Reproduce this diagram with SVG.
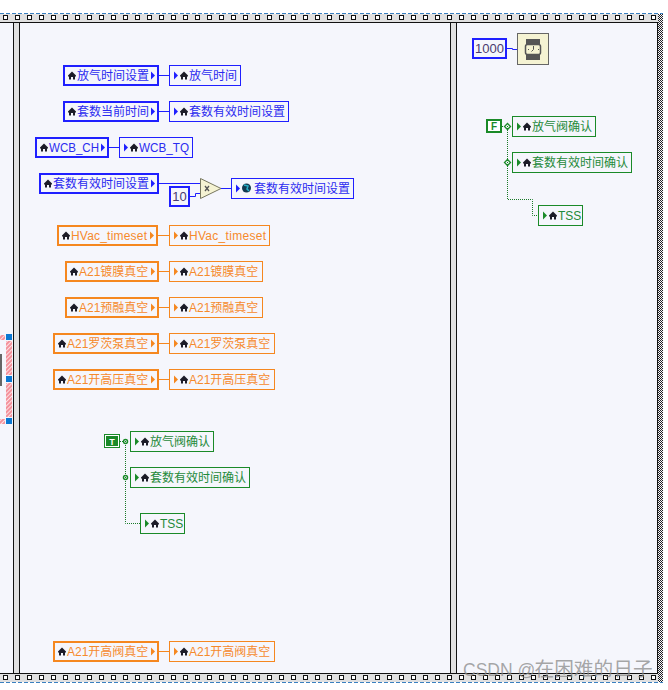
<svg xmlns="http://www.w3.org/2000/svg" width="668" height="690" viewBox="0 0 668 690">
<style>
text{font-family:"Liberation Sans","Noto Sans CJK SC",sans-serif;font-size:12px}
.bl{fill:#2b2bf0}.or{fill:#f58a2c}.gr{fill:#1f8a3a}
.box{fill:#f5f6fc}
.blS{stroke:#1f1fff}.orS{stroke:#f5871f}.grS{stroke:#1a8a28}
.src{stroke-width:2;fill:#f5f6fc}.dst{stroke-width:1;fill:#f5f6fc}
.w{fill:none;stroke-width:1}
.dot{fill:none;stroke:#1a7a28;stroke-width:1;stroke-dasharray:1 1}
.tb{fill:#1f1fff}.to{fill:#f5871f}.tg{fill:#1a8a28}
</style>
<defs>
<symbol id="home" width="9" height="9" viewBox="0 0 9 9" overflow="visible"><path d="M4 0.5L8 4.5V5.5H7V8.5H5V6H3V8.5H1V5.5H0V4.5Z" fill="#1c1c28"/></symbol>
<pattern id="film" x="0" y="14" width="12" height="8" patternUnits="userSpaceOnUse"><rect width="12" height="8" fill="#e0e0e0"/><rect x="3.5" y="1.5" width="4" height="4" fill="#fff" stroke="#111"/></pattern>
<pattern id="filmB" x="0" y="674" width="12" height="8" patternUnits="userSpaceOnUse"><rect width="12" height="8" fill="#e0e0e0"/><rect x="3.5" y="1.5" width="4" height="4" fill="#fff" stroke="#111"/></pattern>
<pattern id="hatch" width="3" height="3" patternUnits="userSpaceOnUse" patternTransform="rotate(45)"><rect width="3" height="3" fill="#f4919b"/><rect width="1" height="3" fill="#fbe0e3"/></pattern>
<pattern id="check" width="2" height="2" patternUnits="userSpaceOnUse"><rect width="2" height="2" fill="#f5f6fc"/><rect width="1" height="1" fill="#222"/><rect x="1" y="1" width="1" height="1" fill="#222"/></pattern>
</defs>
<rect width="668" height="690" fill="#fff"/>
<rect x="0" y="22" width="658" height="652" fill="#e0e0e0"/>
<rect x="0" y="22" width="14" height="652" class="box"/>
<rect x="19.500" y="22.500" width="431" height="651" class="box" stroke="#111"/>
<rect x="456.500" y="22.500" width="201" height="651" class="box" stroke="#111"/>
<line x1="13.500" y1="22" x2="13.500" y2="674" stroke="#111"/>
<rect x="658" y="14" width="5" height="668" fill="url(#check)"/>
<rect x="0" y="14" width="658" height="8" fill="url(#film)"/>
<line x1="0" y1="22.500" x2="658" y2="22.500" stroke="#111"/>
<rect x="0" y="674" width="658" height="8" fill="url(#filmB)"/>
<line x1="0" y1="673.500" x2="658" y2="673.500" stroke="#111"/>
<line x1="0" y1="13.500" x2="663" y2="13.500" stroke="#3a80c0" stroke-dasharray="4 2"/>
<line x1="0" y1="682.500" x2="663" y2="682.500" stroke="#3a80c0" stroke-dasharray="4 2"/>
<g id="left-frame">
<rect x="6" y="341" width="6" height="34" fill="url(#hatch)"/>
<rect x="6" y="383" width="6" height="34" fill="url(#hatch)"/>
<rect x="0" y="335" width="5" height="5" fill="url(#hatch)"/>
<rect x="0" y="419" width="5" height="5" fill="url(#hatch)"/>
<rect x="0" y="354" width="2" height="32" fill="#666"/>
<rect x="6" y="334" width="6" height="6" fill="#0a78d2"/>
<rect x="6" y="376" width="6" height="6" fill="#0a78d2"/>
<rect x="6" y="418" width="6" height="6" fill="#0a78d2"/>
</g>
<g id="connectors">
<path class="w blS" d="M159 75.500H169M159 111.500H169M109 147.500H119M159 183.500H200M190 196.500H195.500V193.500H200M221 188.500H231M507 48.500H512.500V49.500H517"/>
<path class="w orS" d="M158 235.500H169M159 271.500H169M159 307.500H169M159 343.500H169M159 379.500H169M159 651.500H169"/>
<path class="dot" d="M125.500 441V523.500H140M120 441.500H123"/>
<path class="dot" d="M507.500 126V199.500H532.500V215.500H538M502 126.500H505"/>
</g>
<g id="n1"><rect class="src blS" x="64" y="66" width="94" height="19"/><use href="#home" x="68" y="71"/><text class="bl" x="77" y="80">放气时间设置</text><path d="M151 71.500L155 75.500L151 79.500Z" class="tb"/></g>
<g id="n2"><rect class="dst blS" x="169.500" y="65.500" width="71" height="20"/><path d="M174 71.500L178 75.500L174 79.500Z" class="tb"/><use href="#home" x="180" y="71"/><text class="bl" x="189" y="80">放气时间</text></g>
<g id="n3"><rect class="src blS" x="64" y="102" width="94" height="19"/><use href="#home" x="68" y="107"/><text class="bl" x="77" y="116">套数当前时间</text><path d="M151 107.500L155 111.500L151 115.500Z" class="tb"/></g>
<g id="n4"><rect class="dst blS" x="169.500" y="101.500" width="119" height="20"/><path d="M174 107.500L178 111.500L174 115.500Z" class="tb"/><use href="#home" x="180" y="107"/><text class="bl" x="189" y="116">套数有效时间设置</text></g>
<g id="n5"><rect class="src blS" x="36" y="138" width="72" height="19"/><use href="#home" x="40" y="143"/><text class="bl" x="49" y="152" textLength="50" lengthAdjust="spacingAndGlyphs">WCB_CH</text><path d="M101 143.500L105 147.500L101 151.500Z" class="tb"/></g>
<g id="n6"><rect class="dst blS" x="119.500" y="137.500" width="73" height="20"/><path d="M124 143.500L128 147.500L124 151.500Z" class="tb"/><use href="#home" x="130" y="143"/><text class="bl" x="139" y="152" textLength="50" lengthAdjust="spacingAndGlyphs">WCB_TQ</text></g>
<g id="n7"><rect class="src blS" x="40" y="174" width="118" height="19"/><use href="#home" x="44" y="179"/><text class="bl" x="53" y="188">套数有效时间设置</text><path d="M151 179.500L155 183.500L151 187.500Z" class="tb"/></g>
<g id="n8"><rect class="src blS" x="170" y="187" width="19" height="19"/><text x="179.500" y="201" text-anchor="middle" fill="#4a3a70" style="font-size:13px">10</text></g>
<g id="n9"><path d="M200.500 178.500L221 188.500L200.500 198.500Z" fill="#f5f3d3" stroke="#77775f"/><path d="M205 186L209 191M209 186L205 191" stroke="#555" fill="none" stroke-width="1.300"/></g>
<g id="n10"><rect class="dst blS" x="231.500" y="178.500" width="122" height="20"/><path d="M236 184.500L240 188.500L236 192.500Z" class="tb"/><circle cx="246.500" cy="188" r="4.500" fill="#123a50"/><path d="M244 185L248 186L247 189L249 191" fill="none" stroke="#29b0c8" stroke-width="1.500"/><text class="bl" x="254" y="193">套数有效时间设置</text></g>
<g id="n11"><rect class="src orS" x="58" y="226" width="99" height="19"/><use href="#home" x="62" y="231"/><text class="or" x="71" y="240" textLength="76" lengthAdjust="spacing">HVac_timeset</text><path d="M150 231.500L154 235.500L150 239.500Z" class="to"/></g>
<g id="n12"><rect class="dst orS" x="169.500" y="225.500" width="100" height="20"/><path d="M174 231.500L178 235.500L174 239.500Z" class="to"/><use href="#home" x="180" y="231"/><text class="or" x="189" y="240" textLength="77" lengthAdjust="spacing">HVac_timeset</text></g>
<g id="n13"><rect class="src orS" x="66" y="262" width="92" height="19"/><use href="#home" x="70" y="267"/><text class="or" x="79" y="276">A21镀膜真空</text><path d="M151 267.500L155 271.500L151 275.500Z" class="to"/></g>
<g id="n14"><rect class="dst orS" x="169.500" y="261.500" width="93" height="20"/><path d="M174 267.500L178 271.500L174 275.500Z" class="to"/><use href="#home" x="180" y="267"/><text class="or" x="189" y="276">A21镀膜真空</text></g>
<g id="n15"><rect class="src orS" x="66" y="298" width="92" height="19"/><use href="#home" x="70" y="303"/><text class="or" x="79" y="312">A21预融真空</text><path d="M151 303.500L155 307.500L151 311.500Z" class="to"/></g>
<g id="n16"><rect class="dst orS" x="169.500" y="297.500" width="93" height="20"/><path d="M174 303.500L178 307.500L174 311.500Z" class="to"/><use href="#home" x="180" y="303"/><text class="or" x="189" y="312">A21预融真空</text></g>
<g id="n17"><rect class="src orS" x="54" y="334" width="104" height="19"/><use href="#home" x="58" y="339"/><text class="or" x="67" y="348">A21罗茨泵真空</text><path d="M151 339.500L155 343.500L151 347.500Z" class="to"/></g>
<g id="n18"><rect class="dst orS" x="169.500" y="333.500" width="105" height="20"/><path d="M174 339.500L178 343.500L174 347.500Z" class="to"/><use href="#home" x="180" y="339"/><text class="or" x="189" y="348">A21罗茨泵真空</text></g>
<g id="n19"><rect class="src orS" x="54" y="370" width="104" height="19"/><use href="#home" x="58" y="375"/><text class="or" x="67" y="384">A21开高压真空</text><path d="M151 375.500L155 379.500L151 383.500Z" class="to"/></g>
<g id="n20"><rect class="dst orS" x="169.500" y="369.500" width="105" height="20"/><path d="M174 375.500L178 379.500L174 383.500Z" class="to"/><use href="#home" x="180" y="375"/><text class="or" x="189" y="384">A21开高压真空</text></g>
<g id="n21"><rect class="src orS" x="54" y="642" width="104" height="19"/><use href="#home" x="58" y="647"/><text class="or" x="67" y="656">A21开高阀真空</text><path d="M151 647.500L155 651.500L151 655.500Z" class="to"/></g>
<g id="n22"><rect class="dst orS" x="169.500" y="641.500" width="105" height="20"/><path d="M174 647.500L178 651.500L174 655.500Z" class="to"/><use href="#home" x="180" y="647"/><text class="or" x="189" y="656">A21开高阀真空</text></g>
<g id="n23"><rect x="104" y="434" width="16" height="14" fill="#1a8a28"/><rect x="105.500" y="435.500" width="13" height="11" fill="none" stroke="#fff"/><text x="112" y="444.500" text-anchor="middle" fill="#fff" font-weight="700" style="font-size:9px">T</text><circle cx="125.500" cy="441.500" r="2" fill="none" stroke="#1a8a28" stroke-width="1.500"/></g>
<g id="n24"><rect class="dst grS" x="130.500" y="431.500" width="83" height="20"/><path d="M135 437.500L139 441.500L135 445.500Z" class="tg"/><use href="#home" x="141" y="437"/><text class="gr" x="150" y="446">放气阀确认</text></g>
<g id="n25"><circle cx="125.500" cy="477.500" r="2" fill="none" stroke="#1a8a28" stroke-width="1.500"/><rect class="dst grS" x="130.500" y="467.500" width="119" height="20"/><path d="M135 473.500L139 477.500L135 481.500Z" class="tg"/><use href="#home" x="141" y="473"/><text class="gr" x="150" y="482">套数有效时间确认</text></g>
<g id="n26"><rect class="dst grS" x="140.500" y="513.500" width="44" height="20"/><path d="M145 519.500L149 523.500L145 527.500Z" class="tg"/><use href="#home" x="151" y="519"/><text class="gr" x="160" y="528">TSS</text></g>
<g id="n27"><rect class="src blS" x="473" y="39" width="33" height="19"/><text x="489.500" y="53" text-anchor="middle" fill="#4a3a70" style="font-size:13px">1000</text></g>
<g id="n28"><rect x="517.500" y="33.500" width="31" height="31" fill="#f5f3d3" stroke="#666"/><rect x="526" y="39" width="14" height="21" fill="#555"/><rect x="525.500" y="44.500" width="15" height="10" rx="2" fill="#f5f3d3" stroke="#555" stroke-width="1.500"/><path d="M533.500 46V49.500L531.500 51.500M528 49.500H529M538 49.500H539" stroke="#555" fill="none"/></g>
<g id="n29"><rect x="487" y="120" width="14" height="12" fill="#fff" stroke="#1a8a28" stroke-width="2"/><text x="494" y="130" text-anchor="middle" fill="#1a8a28" font-weight="700" style="font-size:10px">F</text><path d="M507.500 123.500L510.500 126.500L507.500 129.500L504.500 126.500Z" fill="none" stroke="#1a8a28" stroke-width="1.300"/></g>
<g id="n30"><rect class="dst grS" x="512.500" y="116.500" width="83" height="20"/><path d="M517 122.500L521 126.500L517 130.500Z" class="tg"/><use href="#home" x="523" y="122"/><text class="gr" x="532" y="131">放气阀确认</text></g>
<g id="n31"><path d="M507.500 159.500L510.500 162.500L507.500 165.500L504.500 162.500Z" fill="none" stroke="#1a8a28" stroke-width="1.300"/><rect class="dst grS" x="512.500" y="152.500" width="119" height="20"/><path d="M517 158.500L521 162.500L517 166.500Z" class="tg"/><use href="#home" x="523" y="158"/><text class="gr" x="532" y="167">套数有效时间确认</text></g>
<g id="n32"><rect class="dst grS" x="538.500" y="205.500" width="44" height="20"/><path d="M543 211.500L547 215.500L543 219.500Z" class="tg"/><use href="#home" x="549" y="211"/><text class="gr" x="558" y="220">TSS</text></g>
<text x="463" y="676" fill="#8a8a8a" fill-opacity="0.75" style="font-size:17.500px">CSDN @<tspan x="534.500" style="font-size:19.700px">在困难的日子</tspan></text>
</svg>
